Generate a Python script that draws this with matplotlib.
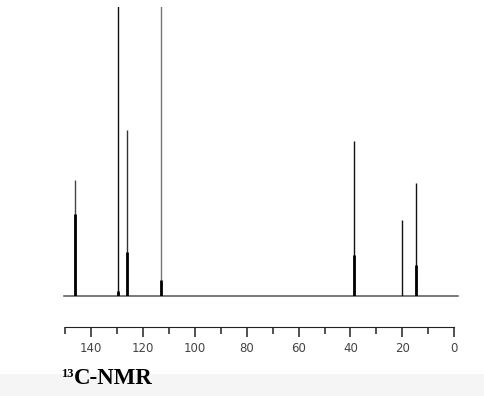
import matplotlib.pyplot as plt
from matplotlib.patches import Rectangle

# peak positions (ppm) and heights (% of plot height); tall thin trace + short thick trace
shifts = [146.2, 129.7, 126.3, 113.0, 38.8, 20.3, 14.8]
tall = [40.1, 110, 57.4, 110, 53.6, 26.3, 39.1]
short = [28.4, 1.5, 15.2, 5.2, 14.2, 0, 10.4]
tall_colors = ["#444444", "#111111", "#333333", "#777777", "#111111", "#111111", "#111111"]
ticks_major = [140, 120, 100, 80, 60, 40, 20, 0]
ticks_minor = [150, 130, 110, 90, 70, 50, 30, 10]

W, H = 485, 396
fig = plt.figure(figsize=(W / 100, H / 100), dpi=100)

# faint grey band at the very bottom
fig.patches.append(Rectangle((0, 0), 1, 22 / H, transform=fig.transFigure,
                             facecolor="#f5f5f5", edgecolor="none", zorder=0))

x0, x1 = 64, 458
ppm_left = 150 + (65 - x0) / 2.59
ppm_right = 0 - (x1 - 454.3) / 2.59

# spectrum
ax = fig.add_axes([x0 / W, (H - 295.5) / H, (x1 - x0) / W, 288.5 / H])
ax.set_xlim(ppm_left, ppm_right)
ax.set_ylim(0, 100)
ax.axhline(0, color="#555555", lw=1.1, clip_on=False)
ax.vlines(shifts, 0, tall, colors=tall_colors, lw=1.0)
ax.vlines(shifts, 0, short, colors="#000000", lw=2.0)
ax.axis("off")

# ppm scale
sc = fig.add_axes([x0 / W, (H - 327) / H, (x1 - x0) / W, 0.01])
sc.set_xlim(ppm_left, ppm_right)
sc.set_ylim(0, 1)
for s in ["left", "right", "top"]:
    sc.spines[s].set_visible(False)
sc.spines["bottom"].set_bounds(150, 0)
sc.spines["bottom"].set_color("#222222")
sc.patch.set_visible(False)
sc.set_yticks([])
sc.set_xticks(ticks_major)
sc.set_xticks(ticks_minor, minor=True)
sc.tick_params(axis="x", which="major", length=7, width=1.1, color="#222222",
               labelsize=8.5, labelcolor="#444444", pad=4)
sc.tick_params(axis="x", which="minor", length=5, width=1.1, color="#222222")

fig.text(61 / W, 1 - 377 / H, "13", fontsize=9, fontweight="bold",
         family="Liberation Serif", va="baseline")
fig.text(74 / W, 1 - 384 / H, "C-NMR", fontsize=16.5, fontweight="bold",
         family="Liberation Serif", va="baseline")

plt.savefig("out.png", dpi=100)
